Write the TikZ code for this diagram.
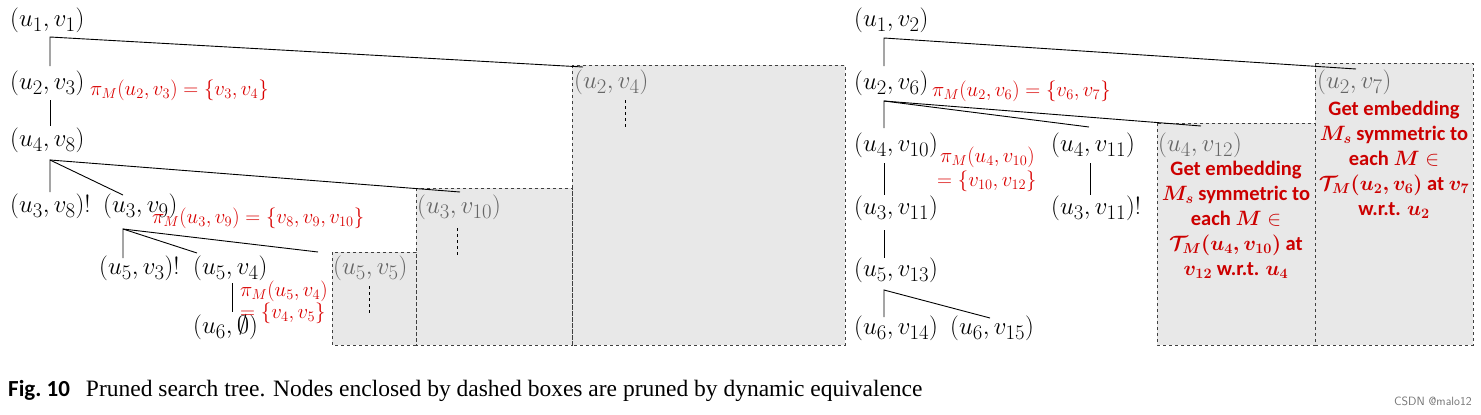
\documentclass[tikz,border=0pt]{standalone}
\usepackage{amsmath,amssymb}
\usepackage{fontspec}
\setmainfont{Liberation Serif}
\newfontfamily\carl{Carlito}
\begin{document}
\begin{tikzpicture}[x=1pt,y=-1pt,
  t/.style={anchor=west,inner sep=0pt,font=\fontsize{28}{30}\selectfont},
  g/.style={t,text=black!60},
  red/.style={anchor=west,inner sep=0pt,text=red!85!black,font=\fontsize{21}{23}\selectfont},
  pbox/.style={draw=black!75,dashed,fill=black!9,line width=0.8pt},
  ln/.style={line width=0.9pt},
  bt/.style={align=center,text=red!80!black,font=\carl\bfseries\fontsize{20.5}{25}\selectfont,inner sep=0pt}]
\useasboundingbox (0,0) rectangle (1481,415);
% boxes
\draw[pbox] (572,65) rectangle (845,345);
\draw[pbox] (416,188) rectangle (572,345);
\draw[pbox] (332,252) rectangle (416,345);
\draw[pbox] (1157,123) rectangle (1315,345);
\draw[pbox] (1315,63) rectangle (1473,345);
% left tree
\node[t] (a1) at (10,20) {$(u_1,v_1)$};
\node[t] (a2) at (10,83) {$(u_2,v_3)$};
\node[g] (a3) at (574,82) {$(u_2,v_4)$};
\node[t] (a4) at (10,140) {$(u_4,v_8)$};
\node[t] (a5) at (10,206) {$(u_3,v_8)!$};
\node[t] (a6) at (103,206) {$(u_3,v_9)$};
\node[g] (a7) at (417,207) {$(u_3,v_{10})$};
\node[t] (a8) at (99,268) {$(u_5,v_3)!$};
\node[t] (a9) at (193,268) {$(u_5,v_4)$};
\node[g] (a10) at (333,268) {$(u_5,v_5)$};
\node[t] (a11) at (193,327) {$(u_6,\emptyset)$};
\coordinate (b1) at (50,37);
\draw[ln] (50,66) -- (b1) -- (583,67);
\draw[ln] (50,100) -- (50,126);
\coordinate (b4) at (50,160);
\draw[ln] (50,192) -- (b4) -- (123,195);
\draw[ln] (b4) -- (460,192);
\coordinate (b6) at (123,229);
\draw[ln] (123,258) -- (b6) -- (197,253);
\draw[ln] (b6) -- (318,252);
\draw[ln] (232,283) -- (232,312);
\draw[dashed,ln] (625,100) -- (625,128);
\draw[dashed,ln] (457,228) -- (457,255);
\draw[dashed,ln] (369,286) -- (369,313);
\node[red] at (90,90) {$\pi_M(u_2,v_3)=\{v_3,v_4\}$};
\node[red] at (152,218) {$\pi_M(u_3,v_9)=\{v_8,v_9,v_{10}\}$};
\node[red] at (240,291) {$\pi_M(u_5,v_4)$};
\node[red] at (240,313) {$=\{v_4,v_5\}$};
% right tree
\node[t] (c1) at (854,20) {$(u_1,v_2)$};
\node[t] (c2) at (854,83) {$(u_2,v_6)$};
\node[g] (c3) at (1317,82) {$(u_2,v_7)$};
\node[t] (c4) at (854,145) {$(u_4,v_{10})$};
\node[t] (c5) at (1051,145) {$(u_4,v_{11})$};
\node[g] (c6) at (1158,145) {$(u_4,v_{12})$};
\node[t] (c7) at (854,208) {$(u_3,v_{11})$};
\node[t] (c8) at (1051,208) {$(u_3,v_{11})!$};
\node[t] (c9) at (854,270) {$(u_5,v_{13})$};
\node[t] (c10) at (854,328) {$(u_6,v_{14})$};
\node[t] (c11) at (950,328) {$(u_6,v_{15})$};
\coordinate (d1) at (884,38);
\draw[ln] (884,66) -- (d1) -- (1356,69);
\coordinate (d2) at (884,101);
\draw[ln] (884,128) -- (d2) -- (1089,127);
\draw[ln] (d2) -- (1201,126);
\draw[ln] (884,163) -- (884,195);
\draw[ln] (1090,163) -- (1090,195);
\draw[ln] (884,230) -- (884,258);
\coordinate (d9) at (884,290);
\draw[ln] (884,317) -- (d9) -- (990,318);
\node[red] at (932,91) {$\pi_M(u_2,v_6)=\{v_6,v_7\}$};
\node[red] at (940,157) {$\pi_M(u_4,v_{10})$};
\node[red] at (937,181) {$=\{v_{10},v_{12}\}$};
\node[bt] at (1236,220) {Get embedding\\$\boldsymbol{M_s}$ symmetric to\\each $\boldsymbol{M}\in$\\$\boldsymbol{\mathcal{T}_M(u_4,v_{10})}$ at\\$\boldsymbol{v_{12}}$ w.r.t. $\boldsymbol{u_4}$};
\node[bt] at (1394,160) {Get embedding\\$\boldsymbol{M_s}$ symmetric to\\each $\boldsymbol{M}\in$\\$\boldsymbol{\mathcal{T}_M(u_2,v_6)}$ at $\boldsymbol{v_7}$\\w.r.t. $\boldsymbol{u_2}$};
% caption
\node[anchor=west,inner sep=0pt] (cap) at (8,391) {{\carl\bfseries\fontsize{23}{26}\selectfont Fig.~10}\hspace{16pt}{\fontsize{23.5}{26}\selectfont Pruned search tree. Nodes enclosed by dashed boxes are pruned by dynamic equivalence}};
\node[anchor=east,inner sep=0pt,text=black!55,font=\sffamily\fontsize{12}{14}\selectfont] (wm) at (1472,401) {CSDN @malo12};
\end{tikzpicture}
\end{document}
